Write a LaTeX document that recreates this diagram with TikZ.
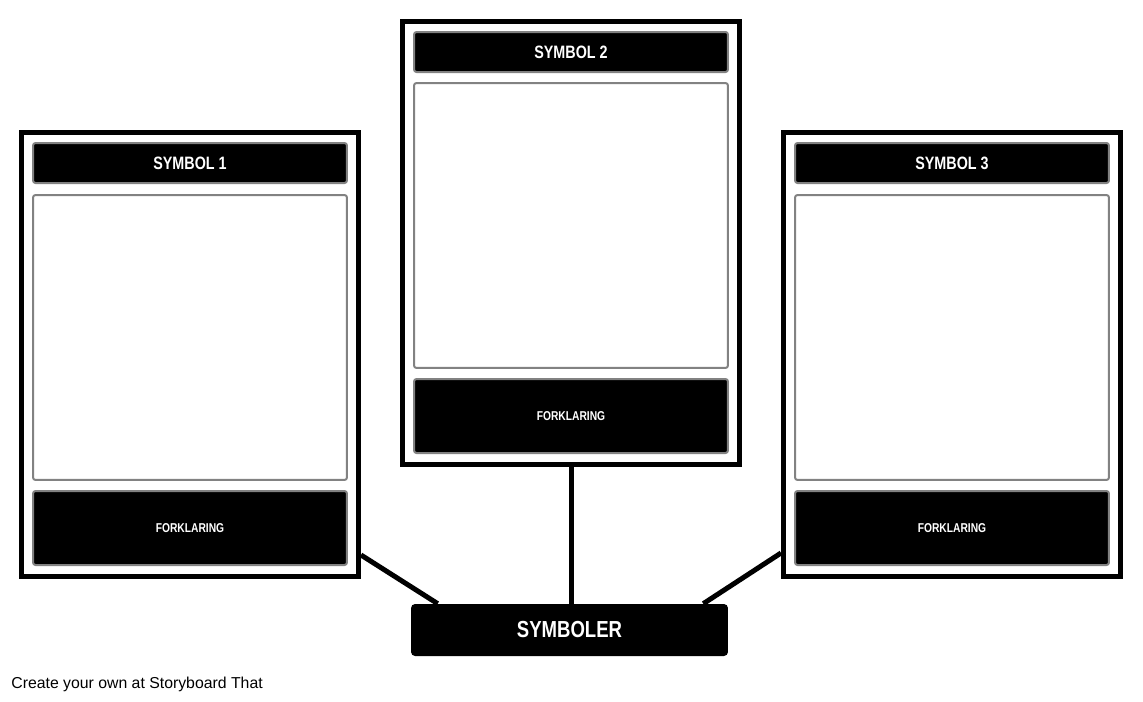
\documentclass[tikz,border=0pt]{standalone}
\usepackage{fontspec}
\usepackage{tikz}
\usepackage{xcolor}
\usetikzlibrary{arrows}
\usetikzlibrary{positioning}
\setmainfont{Liberation Sans}
\newfontfamily\headfont[FakeStretch=0.8]{Liberation Sans}

\begin{document}
\begin{tikzpicture}[x={0.02cm}, y={-0.02cm},
		panel/.style={draw={BLACK!100}, line width={0.1cm}, fill={WHITE!100}, minimum width={6.74cm}, minimum height={8.88cm}, inner sep=0pt},
		bar/.style={draw={MID_GRAY!100}, line width={0.04cm}, fill={BLACK!100}, rounded corners={0.05cm}, minimum width={6.28cm}, text={WHITE!100}, inner sep=0pt},
		titlebar/.style={bar, minimum height={0.80cm}, font={\headfont\bfseries\fontsize{10.2}{12}\selectfont}},
		notebar/.style={bar, minimum height={1.48cm}, font={\headfont\bfseries\fontsize{7.3}{9}\selectfont}},
		picbox/.style={draw={MID_GRAY!100}, line width={0.04cm}, fill={WHITE!100}, rounded corners={0.05cm}, minimum width={6.28cm}, minimum height={5.70cm}},
		link/.style={draw={BLACK!100}, line width={0.1cm}}]
				\definecolor{WHITE}{RGB}{255, 255, 255}
				\definecolor{MID_GRAY}{RGB}{130, 130, 130}
				\definecolor{BLACK}{RGB}{0, 0, 0}
				\useasboundingbox (0, 0) rectangle (1143, 701);
				
				% symbol 1
				\begin{scope}
					\node[panel] (p1) at (190, 354.5) {};
					\node[titlebar] (t1) at (190, 163) {SYMBOL 1};
					\node[picbox] (b1) at (190, 337.5) {};
					\node[notebar] (n1) at (190, 528) {FORKLARING};
				\end{scope}
				
				% symbol 2
				\begin{scope}
					\node[panel] (p2) at (571, 243) {};
					\node[titlebar] (t2) at (571, 52) {SYMBOL 2};
					\node[picbox] (b2) at (571, 225.5) {};
					\node[notebar] (n2) at (571, 416) {FORKLARING};
				\end{scope}
				
				% symbol 3
				\begin{scope}
					\node[panel] (p3) at (952, 354.5) {};
					\node[titlebar] (t3) at (952, 163) {SYMBOL 3};
					\node[picbox] (b3) at (952, 337.5) {};
					\node[notebar] (n3) at (952, 528) {FORKLARING};
				\end{scope}
				
				\node[fill={BLACK!100}, rounded corners={0.08cm}, minimum width={6.34cm}, minimum height={1.04cm}, text={WHITE!100}, font={\headfont\bfseries\fontsize{13.2}{15}\selectfont}] (sym) at (569.5, 630) {SYMBOLER};
				
				\draw[link] ([yshift=0.48cm]p1.south east) -- ([xshift=0.54cm]sym.north west);
				\draw[link] (p2.south) -- (p2.south |- sym.north);
				\draw[link] ([yshift=0.52cm]p3.south west) -- ([xshift=-0.5cm]sym.north east);
				
				\node[anchor=base west, inner sep=0pt, font={\fontsize{9}{11}\selectfont}] (credit) at (11, 688) {Create your own at Storyboard That};
			\end{tikzpicture}
\end{document}
